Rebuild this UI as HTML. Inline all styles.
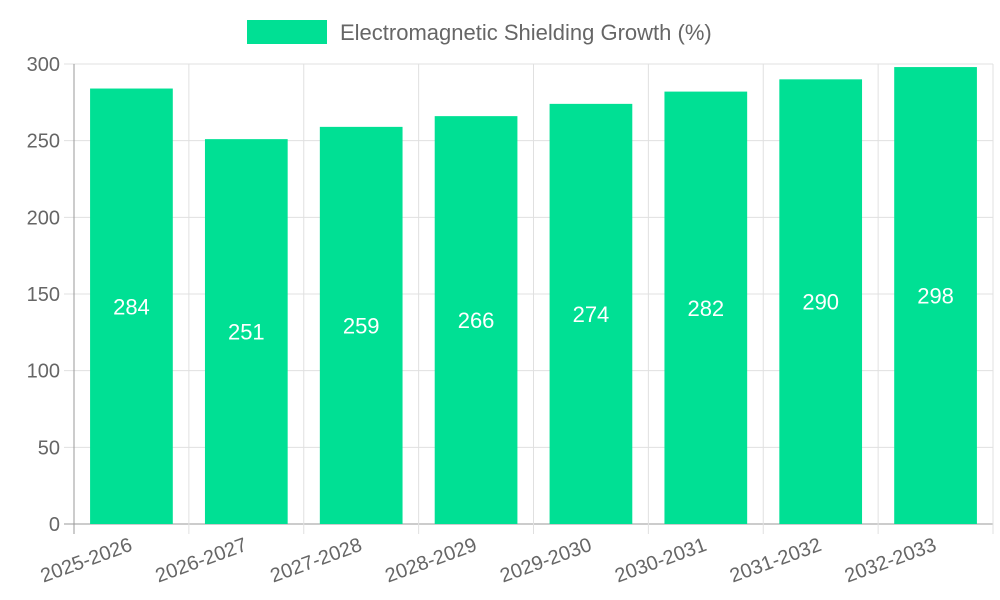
<!DOCTYPE html>
<html><head><meta charset="utf-8"><style>
body{margin:0;background:#fff;}
svg{display:block;font-family:"Liberation Sans",sans-serif;}
</style></head><body>
<svg id="chart" width="1000" height="600">
<g>
<rect x="247" y="20" width="80" height="24" fill="#00e094"></rect>
<text x="340" y="40" font-size="22" fill="#666">Electromagnetic Shielding Growth (%)</text>
</g>
<g id="grid"></g><g id="bars"></g><g id="axes"></g>
</svg>
<script>
const categories=["2025-2026","2026-2027","2027-2028","2028-2029","2029-2030","2030-2031","2031-2032","2032-2033"];
const values=[284,251,259,266,274,282,290,298];
const yTicks=[0,50,100,150,200,250,300];
const NS="http://www.w3.org/2000/svg";
const L=74,R=993,T=64,B=524,yMax=300;
const bw=(R-L)/categories.length;
const y=v=>B-(v/yMax)*(B-T);
const x=i=>L+i*bw;
function mk(tag,attrs,parent,txt){const e=document.createElementNS(NS,tag);for(const k in attrs)e.setAttribute(k,attrs[k]);if(txt!==undefined)e.textContent=txt;document.getElementById(parent).appendChild(e);return e;}
yTicks.forEach(t=>{
 const g=mk('line',{x1:L-10,x2:R,y1:y(t),y2:y(t),stroke:t===0?'#999':'#e0e0e0','stroke-width':1},'grid');
 
 
 const l=mk('text',{x:L-14,y:y(t)+7,'text-anchor':'end','font-size':20,fill:'#666'},'axes',t);
 
 
});
for(let i=0;i<=categories.length;i++){
 const g=mk('line',{x1:x(i),x2:x(i),y1:T,y2:B+10,stroke:i===0?'#999':'#e0e0e0','stroke-width':1},'grid');
 
 
}
categories.forEach((c,i)=>{
 const cx=x(i)+bw/2, w=bw*0.72;
 const b=mk('rect',{x:cx-w/2,y:y(values[i]),width:w,height:B-y(values[i]),fill:'#00e094'},'bars');
 
 
 const v=mk('text',{x:cx,y:(y(values[i])+B)/2+8,'text-anchor':'middle','font-size':22,fill:'#fff'},'bars',values[i]);
 
 
 const lx=cx+2,ly=B+26;
 const t=mk('text',{x:lx,y:ly,'text-anchor':'end','font-size':20,fill:'#666',transform:`rotate(-20 ${lx} ${ly})`},'axes',c);
 
 
});
</script>
</body></html>
